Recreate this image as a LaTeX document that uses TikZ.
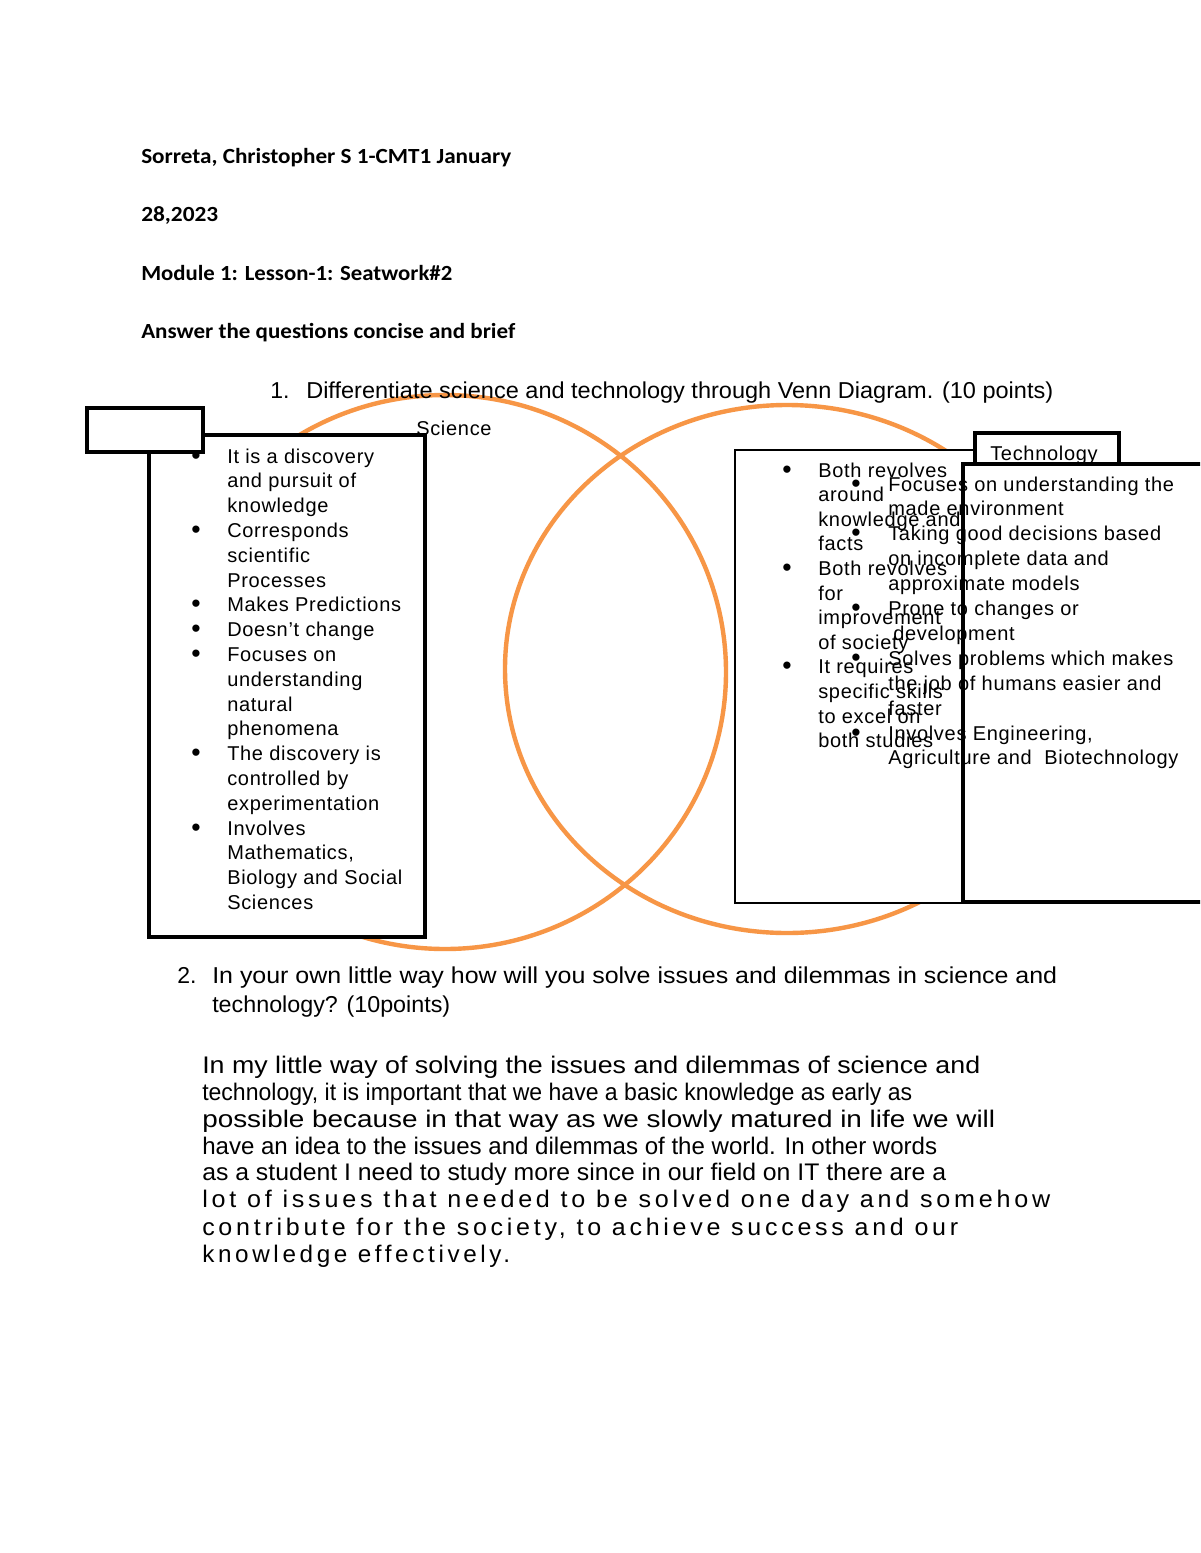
\documentclass[tikz,border=0pt]{standalone}
\usepackage{fontspec}
\usepackage{graphicx}
\setmainfont{Liberation Sans}
\newfontfamily\hdrfont{Carlito}
\newfontfamily\boxfont{Liberation Sans}[LetterSpace=3.5]
\newfontfamily\widefont{Liberation Sans}[LetterSpace=15]
\definecolor{vennorange}{RGB}{247,150,70}
\newsavebox\fitbox
\newcommand\fitw[2]{\sbox\fitbox{#2}\edef\fitwW{\the\wd\fitbox}\pgfmathsetmacro\fitr{#1*0.75/\fitwW}\scalebox{\fitr}[1]{\usebox\fitbox}}
\tikzset{
  thickbox/.style={draw=black, line width=2.3pt, fill=white},
  thinbox/.style={draw=black, line width=1.1pt, fill=white},
  venn/.style={draw=vennorange, line width=3.3pt},
  bt/.style={inner sep=0, anchor=base west, font=\boxfont\fontsize{15}{18}\selectfont},
  bul/.style={inner sep=0, anchor=base, font=\fontsize{20}{22}\selectfont},
  hdr/.style={inner sep=0, anchor=base west, font=\hdrfont\bfseries\fontsize{16.2}{18}\selectfont},
  qtext/.style={inner sep=0, anchor=base west, font=\fontsize{17.25}{20}\selectfont},
  para/.style={inner sep=0, anchor=base west, font=\fontsize{18}{20}\selectfont},
  wpara/.style={inner sep=0, anchor=base west, font=\widefont\fontsize{18}{20}\selectfont},
}
\begin{document}
\begin{tikzpicture}[x=0.75pt,y=-0.75pt]
\useasboundingbox (0,0) rectangle (1200,1553);
\fill[white] (0,0) rectangle (1200,1553);
\clip (0,0) rectangle (1200,1553);
% Venn circles
\draw[venn] (445,672) ellipse [x radius=210.75pt, y radius=207.75pt];
\draw[venn] (787,669) ellipse [x radius=211.5pt, y radius=198pt];
% left box
\draw[thickbox] (149,435) rectangle (425,937);
\draw[thickbox] (87,408) rectangle (203,452);
% left box text
\node[bul] (lb1) at (196,464) {•};
\node[bt] (l1) at (227,463) {It is a discovery};
\node[bt] (l2) at (227,487.8) {and pursuit of};
\node[bt] (l3) at (227,512.6) {knowledge};
\node[bul] (lb2) at (196,538.4) {•};
\node[bt] (l4) at (227,537.4) {Corresponds};
\node[bt] (l5) at (227,562.2) {scientific};
\node[bt] (l6) at (227,587) {Processes};
\node[bul] (lb3) at (196,612.8) {•};
\node[bt] (l7) at (227,611.8) {Makes Predictions};
\node[bul] (lb4) at (196,637.6) {•};
\node[bt] (l8) at (227,636.6) {Doesn’t change};
\node[bul] (lb5) at (196,662.4) {•};
\node[bt] (l9) at (227,661.4) {Focuses on};
\node[bt] (l10) at (227,686.2) {understanding};
\node[bt] (l11) at (227,711) {natural};
\node[bt] (l12) at (227,735.8) {phenomena};
\node[bul] (lb6) at (196,761.6) {•};
\node[bt] (l13) at (227,760.6) {The discovery is};
\node[bt] (l14) at (227,785.4) {controlled by};
\node[bt] (l15) at (227,810.2) {experimentation};
\node[bul] (lb7) at (196,836) {•};
\node[bt] (l16) at (227,835) {Involves};
\node[bt] (l17) at (227,859.8) {Mathematics,};
\node[bt] (l18) at (227,884.6) {Biology and Social};
\node[bt] (l19) at (227,909.4) {Sciences};
\node[bt] (sci) at (416,435) {Science};
% middle box
\draw[thinbox] (735,450) rectangle (978,903);
\node[bul] (mb1) at (787,478) {•};
\node[bt] (m1) at (818,477) {Both revolves};
\node[bt] (m2) at (818,501.6) {around};
\node[bt] (m3) at (818,526.2) {knowledge and};
\node[bt] (m4) at (818,550.8) {facts};
\node[bul] (mb2) at (787,576.4) {•};
\node[bt] (m5) at (818,575.4) {Both revolves};
\node[bt] (m6) at (818,600) {for};
\node[bt] (m7) at (818,624.6) {improvement};
\node[bt] (m8) at (818,649.2) {of society};
\node[bul] (mb3) at (787,674.8) {•};
\node[bt] (m9) at (818,673.8) {It requires};
\node[bt] (m10) at (818,698.4) {specific skills};
\node[bt] (m11) at (818,723) {to excel on};
\node[bt] (m12) at (818,747.6) {both studies};
% technology label and right box
\draw[thickbox] (975,433) rectangle (1119,465);
\node[bt] (tech) at (990,460) {Technology};
\draw[thickbox] (963,464) rectangle (1220,902);
\node[bul] (rb1) at (856,492) {•};
\node[bt] (r1) at (888,491) {Focuses on understanding the};
\node[bt] (r2) at (888,515.9) {made environment};
\node[bul] (rb2) at (856,541.8) {•};
\node[bt] (r3) at (888,540.8) {Taking good decisions based};
\node[bt] (r4) at (888,565.7) {on incomplete data and};
\node[bt] (r5) at (888,590.6) {approximate models};
\node[bul] (rb3) at (856,616.5) {•};
\node[bt] (r6) at (888,615.5) {Prone to changes or};
\node[bt] (r7) at (893,640.4) {development};
\node[bul] (rb4) at (856,666.3) {•};
\node[bt] (r8) at (888,665.3) {Solves problems which makes};
\node[bt] (r9) at (888,690.2) {the job of humans easier and};
\node[bt] (r10) at (888,715.1) {faster};
\node[bul] (rb5) at (856,741) {•};
\node[bt] (r11) at (888,740) {Involves Engineering,};
\node[bt] (r12) at (888,764.9) {Agriculture and \ Biotechnology};
% header
\node[hdr] (h1) at (141,163) {\fitw{370}{Sorreta, Christopher S 1-CMT1 January}};
\node[hdr] (h2) at (141,221) {\fitw{77}{28,2023}};
\node[hdr] (h3) at (141,280) {\fitw{311}{Module 1: Lesson-1: Seatwork\#2}};
\node[hdr] (h4) at (141,338) {\fitw{374}{Answer the questions concise and brief}};
% question 1
\node[qtext] (q1n) at (270,398) {1.};
\node[qtext] (q1) at (306,398) {\fitw{747}{Differentiate science and technology through Venn Diagram. (10 points)}};
% question 2
\node[qtext] (q2n) at (177,983) {2.};
\node[qtext] (q2a) at (212,983) {\fitw{845}{In your own little way how will you solve issues and dilemmas in science and}};
\node[qtext] (q2b) at (212,1012) {\fitw{238}{technology? (10points)}};
% answer paragraph
\node[para] (p1) at (202,1073) {\fitw{778}{In my little way of solving the issues and dilemmas of science and}};
\node[para] (p2) at (202,1100) {\fitw{710}{technology, it is important that we have a basic knowledge as early as}};
\node[para] (p3) at (202,1127) {\fitw{793}{possible because in that way as we slowly matured in life we will}};
\node[para] (p4) at (202,1154) {\fitw{735}{have an idea to the issues and dilemmas of the world. In other words}};
\node[para] (p5) at (202,1180) {\fitw{744}{as a student I need to study more since in our field on IT there are a}};
\node[wpara] (p6) at (202,1207) {\fitw{848}{lot of issues that needed to be solved one day and somehow}};
\node[wpara] (p7) at (202,1235) {\fitw{756}{contribute for the society, to achieve success and our}};
\node[wpara] (p8) at (202,1262) {\fitw{308}{knowledge effectively.}};
\end{tikzpicture}
\end{document}
